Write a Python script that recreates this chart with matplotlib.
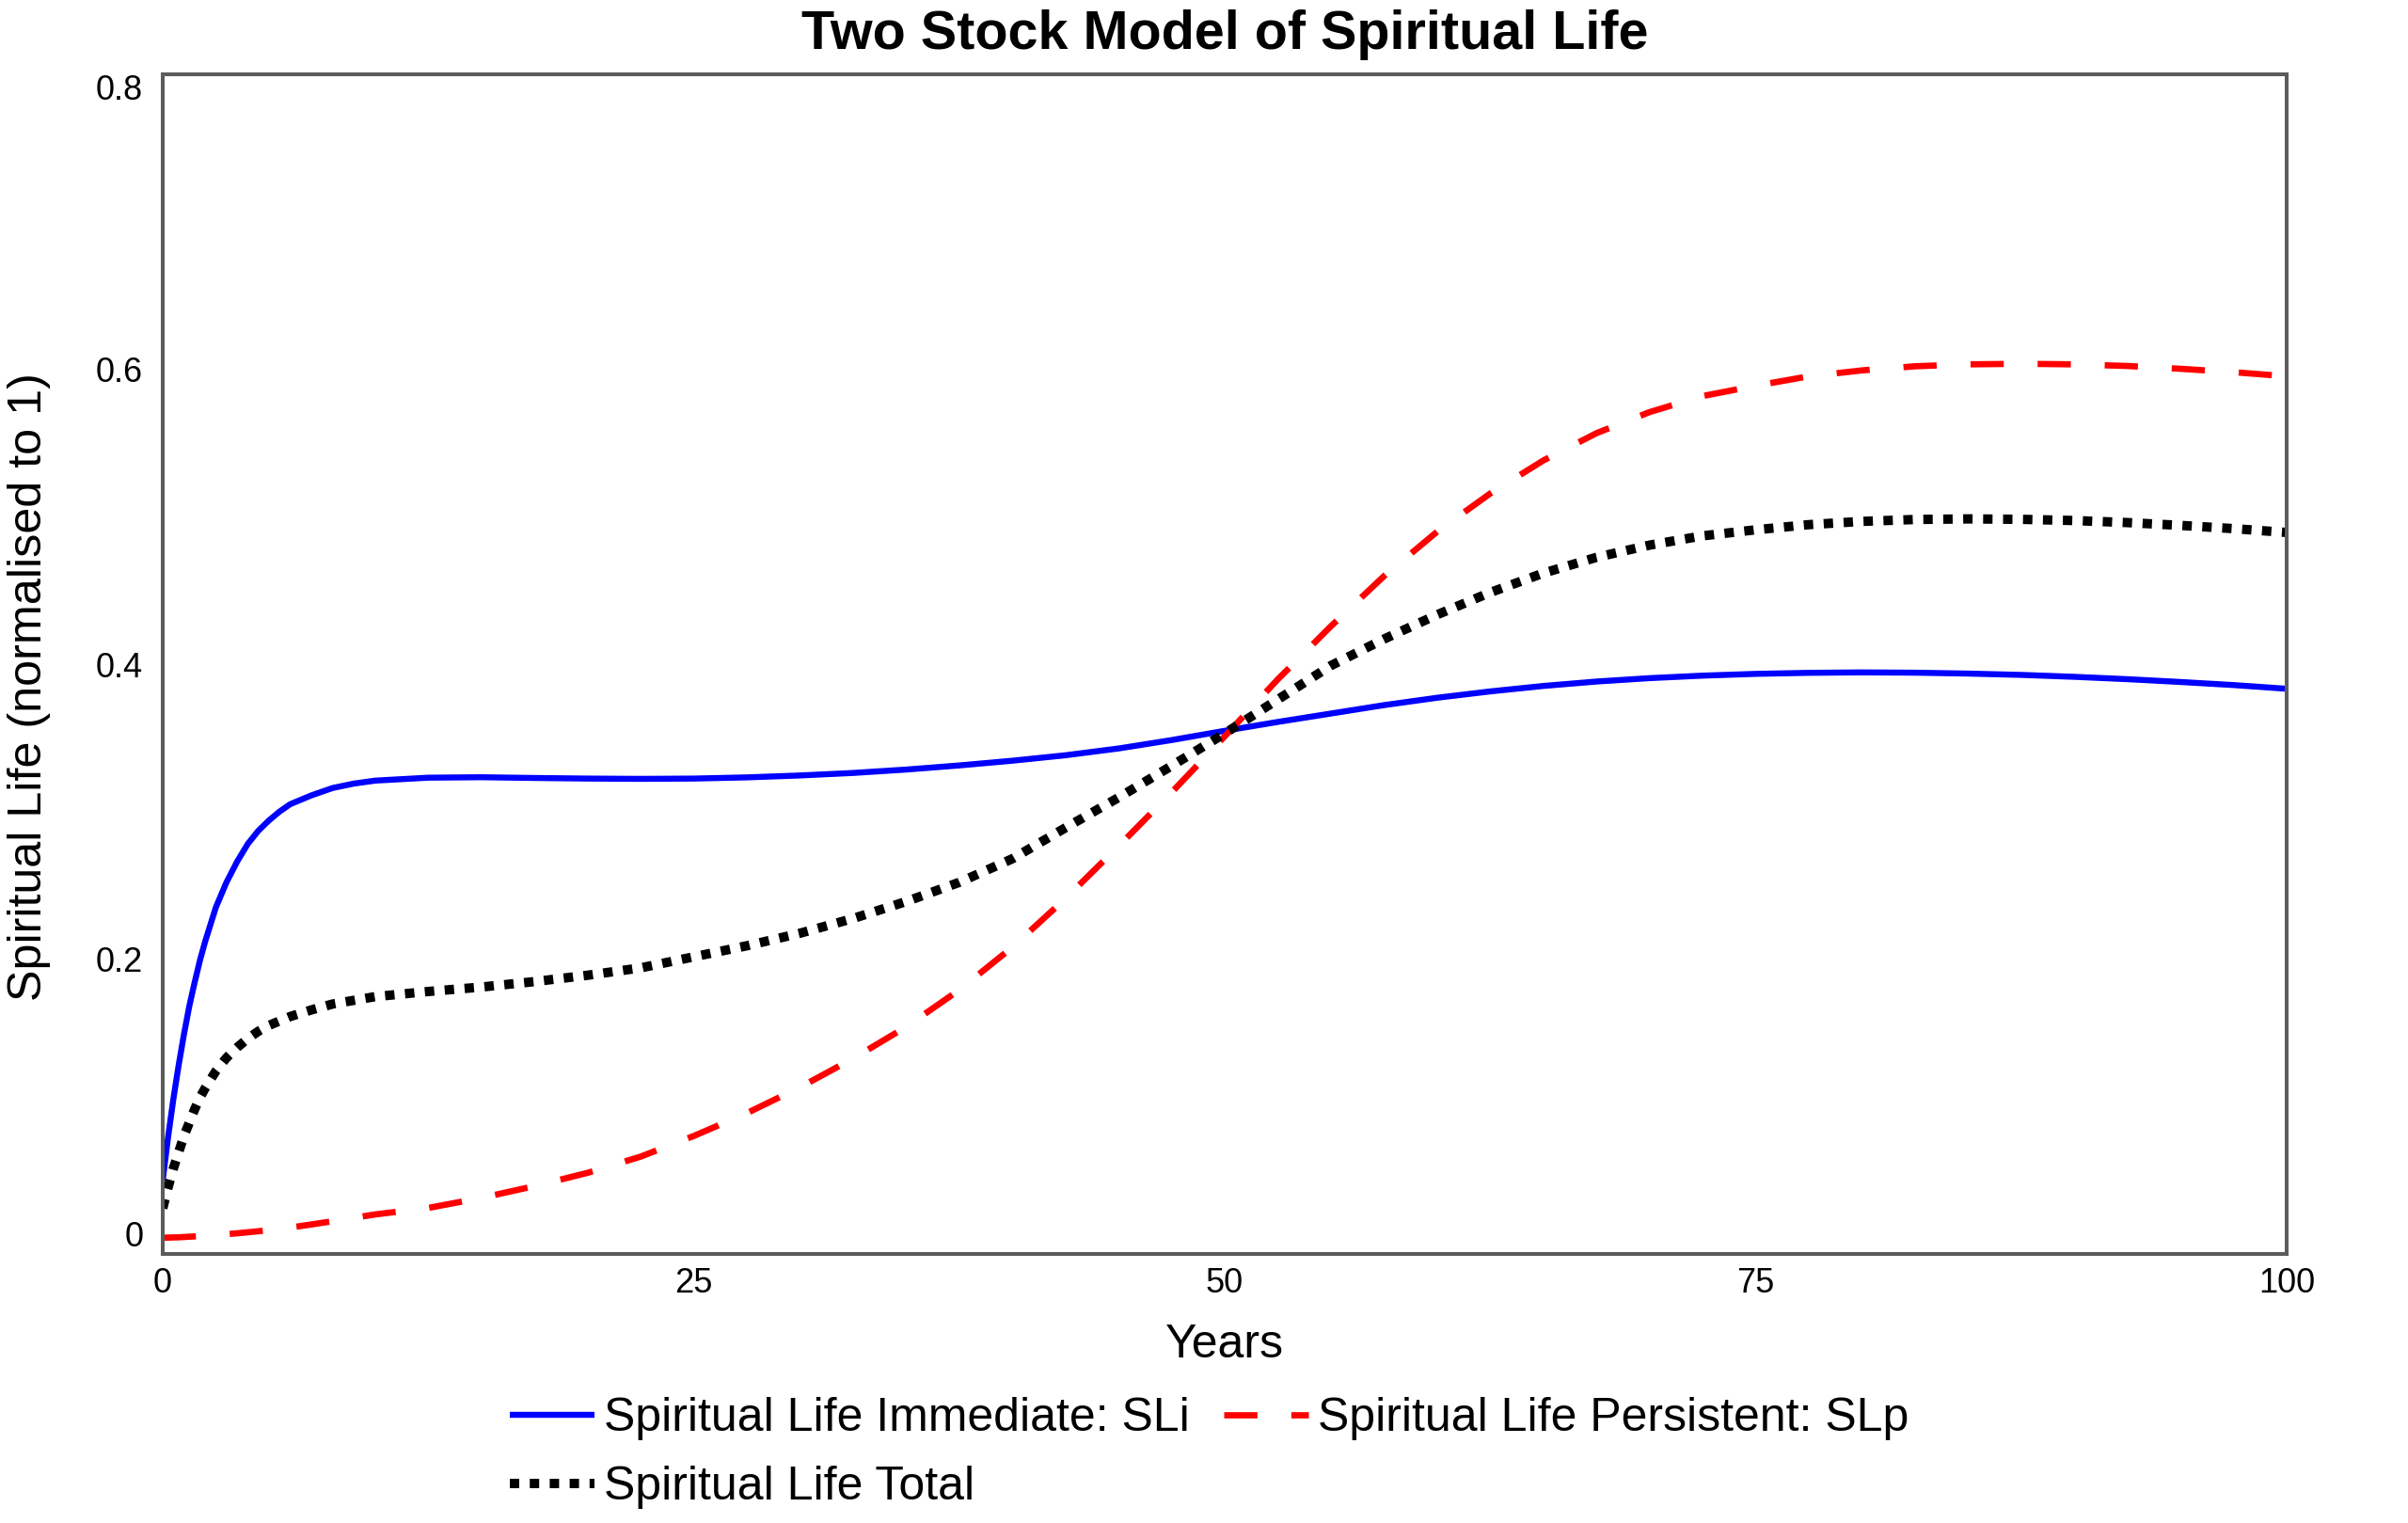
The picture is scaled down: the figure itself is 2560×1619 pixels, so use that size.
import matplotlib
matplotlib.use("Agg")
import matplotlib.pyplot as plt

plt.rcParams['font.family'] = ['Liberation Sans', 'DejaVu Sans']

# ---- data ----
years = [0, 0.25, 0.5, 0.75, 1, 1.25, 1.5, 1.75, 2, 2.5, 3, 3.5, 4, 4.5, 5, 5.5, 6, 7, 8, 9, 10,
         12.5, 15, 17.5, 20, 22.5, 25, 27.5, 30, 32.5, 35, 37.5, 40, 42.5, 45, 47.5, 50,
         52.5, 55, 57.5, 60, 62.5, 65, 67.5, 70, 72.5, 75, 77.5, 80, 82.5, 85, 87.5, 90,
         92.5, 95, 97.5, 100]

sl_immediate = [0.050, 0.079, 0.105, 0.128, 0.149, 0.168, 0.184, 0.199, 0.212, 0.235, 0.252, 0.266,
                0.278, 0.287, 0.294, 0.300, 0.305, 0.311, 0.316, 0.319, 0.321,
                0.3230, 0.3233, 0.3228, 0.3224, 0.3222, 0.3224, 0.3232, 0.3245, 0.3262, 0.3285, 0.3313, 0.3345,
                0.3382, 0.3428, 0.3485, 0.3548, 0.3608, 0.3665, 0.3722, 0.3772, 0.3815, 0.3852, 0.3882, 0.3905,
                0.3922, 0.3934, 0.3941, 0.3944, 0.3942, 0.3936, 0.3927, 0.3914, 0.3898, 0.3879, 0.3858, 0.3833]

sl_persistent = [0.0110, 0.0111, 0.0112, 0.0113, 0.0115, 0.0117, 0.0119, 0.0121, 0.0123, 0.0128, 0.0134, 0.0140,
                 0.0147, 0.0154, 0.0162, 0.0170, 0.0179, 0.0200, 0.0222, 0.0245, 0.0268,
                 0.0312, 0.0380, 0.0460, 0.0550, 0.0660, 0.0800, 0.0955, 0.1130, 0.1325, 0.1540, 0.1790, 0.2080,
                 0.2410, 0.2765, 0.3130, 0.3510, 0.3897, 0.4257, 0.4597, 0.4898, 0.5157, 0.5381, 0.5566, 0.5709,
                 0.5818, 0.5888, 0.5952, 0.5992, 0.6020, 0.6033, 0.6037, 0.6033, 0.6022, 0.6003, 0.5980, 0.5952]

sl_total = [0.031, 0.045, 0.058, 0.069, 0.080, 0.089, 0.098, 0.106, 0.1125, 0.124, 0.133, 0.140,
            0.146, 0.151, 0.155, 0.158, 0.161, 0.1655, 0.1695, 0.172, 0.1745,
            0.178, 0.181, 0.1847, 0.189, 0.194, 0.2015, 0.209, 0.2175, 0.2275, 0.239, 0.252, 0.268,
            0.289, 0.3095, 0.331, 0.353, 0.376, 0.399, 0.417, 0.4335, 0.4486, 0.4617, 0.4724, 0.4807,
            0.487, 0.4911, 0.4946, 0.4968, 0.4981, 0.4985, 0.4982, 0.4974, 0.496, 0.4941, 0.4919, 0.4893]

x_ticks = [0, 25, 50, 75, 100]
x_tick_labels = ["0", "25", "50", "75", "100"]
y_ticks = [0, 0.2, 0.4, 0.6, 0.8]
y_tick_labels = ["0", "0.2", "0.4", "0.6", "0.8"]

labels = ["Spiritual Life Immediate: SLi", "Spiritual Life Persistent: SLp", "Spiritual Life Total"]

# ---- figure ----
fig = plt.figure(figsize=(12.8, 8.095), dpi=200)
ax = fig.add_axes([173/2560, 1 - 1333/1619, (2431-173)/2560, (1333-79)/1619])

l1, = ax.plot(years, sl_immediate, color='#0000ff', lw=2.3, solid_capstyle='butt')
l2, = ax.plot(years, sl_persistent, color='#ff0000', lw=2.4, linestyle=(0, (5.3, 5.4)))
l3, = ax.plot(years, sl_total, color='black', lw=3.6, linestyle=(0, (1.0, 1.12)))

ax.set_xlim(0, 100)
ax.set_ylim(0, 0.8)
ax.set_xticks(x_ticks)
ax.set_xticklabels(x_tick_labels)
ax.set_yticks(y_ticks)
ax.set_yticklabels(y_tick_labels)
ax.tick_params(axis='both', length=0, labelsize=13)
ax.tick_params(axis='y', pad=7.5)
ax.tick_params(axis='x', pad=4.9)

yt = ax.yaxis.get_major_ticks()
yt[0].label1.set_va('bottom')
yt[-1].label1.set_va('top')

for s in ax.spines.values():
    s.set_color('#5c5c5c')
    s.set_linewidth(1.45)

ax.set_title("Two Stock Model of Spiritual Life", fontsize=20.7, fontweight='bold', pad=9.7)
ax.set_xlabel("Years", fontsize=18)
ax.set_ylabel("Spiritual Life (normalised to 1)", fontsize=18.1)
ax.xaxis.set_label_coords(0.5, -0.059)
ax.yaxis.set_label_coords(-0.0527, 0.481)

fig.legend([l1, l3, l2], [labels[0], labels[2], labels[1]], ncol=2, loc='upper center',
           bbox_to_anchor=(1286/2560, 1 - 1485/1619), frameon=False, fontsize=18,
           handlelength=1.8, handletextpad=0.2, columnspacing=0.72, labelspacing=0.54,
           borderpad=0, borderaxespad=0)

fig.savefig("out.png", dpi=200, facecolor='white')
